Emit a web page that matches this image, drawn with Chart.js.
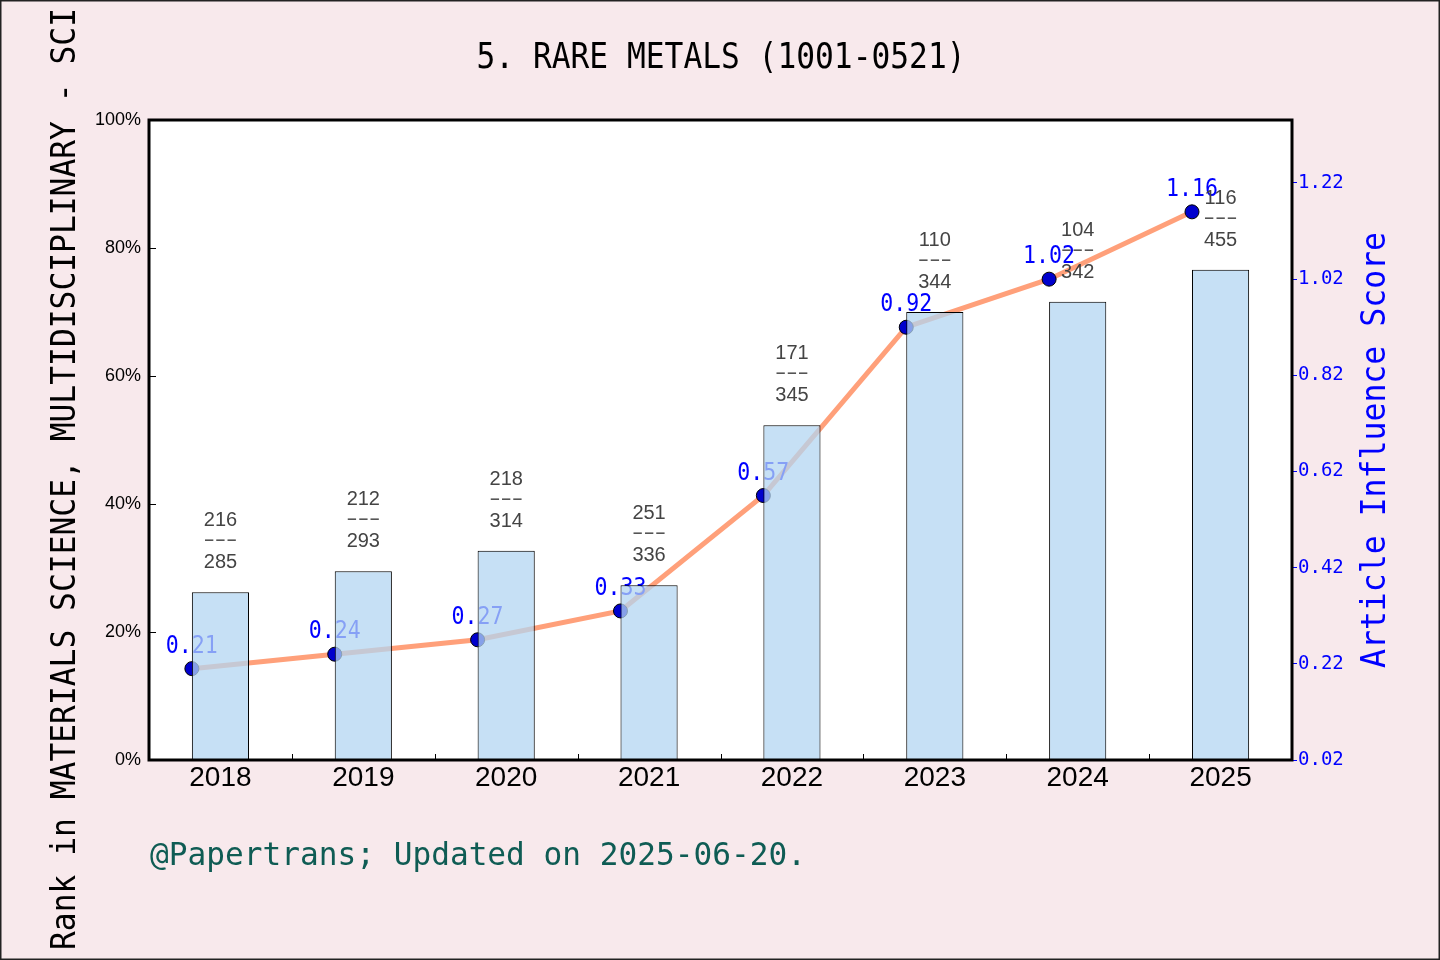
<!DOCTYPE html>
<html>
<head>
<meta charset="utf-8">
<script src="https://cdn.jsdelivr.net/npm/chart.js@4/dist/chart.umd.min.js"></script>
<style>
  html, body { margin: 0; padding: 0; background: #f8e9ec; }
  canvas { display: block; }
</style>
</head>
<body>
<canvas id="rankChart" width="1440" height="960"></canvas>
<script>
// data
const years = ["2018", "2019", "2020", "2021", "2022", "2023", "2024", "2025"];
const rankPct = [26.2, 29.5, 32.7, 27.3, 52.3, 70.0, 71.6, 76.6];
const aisScore = [0.21, 0.24, 0.27, 0.33, 0.57, 0.92, 1.02, 1.16];
const ranks = [216, 212, 218, 251, 171, 110, 104, 116];
const totals = [285, 293, 314, 336, 345, 344, 342, 455];
const pctTicks = [0, 20, 40, 60, 80, 100];
const aisTicks = [0.02, 0.22, 0.42, 0.62, 0.82, 1.02, 1.22];

const lineShift = -0.2; // line sits at the left edge of each bar

const BLUE = "#0000ff";
const MONO = "DejaVu Sans Mono";

// draw text squeezed/stretched to a given width
function drawFitted(ctx, text, x, y, width, font, color, align, angle) {
  ctx.save();
  ctx.font = font;
  ctx.fillStyle = color;
  ctx.textBaseline = "alphabetic";
  ctx.textAlign = align || "left";
  const w = ctx.measureText(text).width;
  ctx.translate(x, y);
  if (angle) ctx.rotate(angle);
  ctx.scale(width ? width / w : 1, 1);
  ctx.fillText(text, 0, 0);
  ctx.restore();
}

const decor = {
  id: "decor",
  beforeDraw(chart) {
    const { ctx, chartArea: a } = chart;
    ctx.save();
    ctx.fillStyle = "#f8e9ec";
    ctx.fillRect(0, 0, chart.width, chart.height);
    ctx.fillStyle = "#ffffff";
    ctx.fillRect(a.left, a.top, a.right - a.left, a.bottom - a.top);
    ctx.restore();
  },
  afterDatasetDraw(chart, args) {
    // value labels of the line, drawn before the bars cover them
    if (args.meta.type !== "line") return;
    const ctx = chart.ctx;
    args.meta.data.forEach((pt, i) => {
      drawFitted(ctx, aisScore[i].toFixed(2), pt.x, pt.y - 16, 52,
        "25px " + MONO, BLUE, "center");
    });
  },
  afterDatasetsDraw(chart) {
    const ctx = chart.ctx;
    const bars = chart.getDatasetMeta(0).data;
    bars.forEach((bar, i) => {
      ctx.save();
      ctx.font = "20px 'Liberation Sans'";
      ctx.fillStyle = "#444444";
      ctx.textAlign = "center";
      ctx.textBaseline = "alphabetic";
      ctx.fillText(String(ranks[i]), bar.x, bar.y - 66);
      ctx.fillText(String(totals[i]), bar.x, bar.y - 24);
      ctx.restore();
      drawFitted(ctx, "---", bar.x, bar.y - 46, 34, "20px 'Liberation Sans'", "#555555", "center");
    });
  },
  afterDraw(chart) {
    const { ctx, chartArea: a, scales } = chart;
    ctx.save();
    // inward ticks on the left axis
    ctx.strokeStyle = "#000";
    ctx.lineWidth = 1;
    scales.y.ticks.forEach((t, i) => {
      const py = Math.round(scales.y.getPixelForTick(i)) + 0.5;
      ctx.beginPath();
      ctx.moveTo(a.left, py);
      ctx.lineTo(a.left + 7, py);
      ctx.stroke();
    });
    // minor ticks between years on the bottom axis
    for (let i = 0; i < years.length - 1; i++) {
      const px = Math.round((scales.x.getPixelForTick(i) + scales.x.getPixelForTick(i + 1)) / 2) + 0.5;
      ctx.beginPath();
      ctx.moveTo(px, a.bottom);
      ctx.lineTo(px, a.bottom - 6);
      ctx.stroke();
    }
    // frame
    ctx.lineWidth = 3;
    ctx.strokeRect(a.left, a.top, a.right - a.left, a.bottom - a.top);
    // figure border
    ctx.lineWidth = 1.5;
    ctx.strokeStyle = "#222";
    ctx.strokeRect(0.75, 0.75, chart.width - 1.5, chart.height - 1.5);
    ctx.restore();

    drawFitted(ctx, "5. RARE METALS (1001-0521)", 721, 68, 489, "36px " + MONO, "#000", "center");
    drawFitted(ctx, "@Papertrans; Updated on 2025-06-20.", 150, 865, 656, "32px " + MONO, "#0f5c54", "left");
    drawFitted(ctx, "Rank in MATERIALS SCIENCE, MULTIDISCIPLINARY - SCI", 75, 479, 942,
      "34px " + MONO, "#000", "center", -Math.PI / 2);
    drawFitted(ctx, "Article Influence Score", 1385, 450, 436,
      "34px " + MONO, BLUE, "center", -Math.PI / 2);
  }
};

const ctx = document.getElementById("rankChart");

const rankChart = new Chart(ctx, {
  type: "bar",
  data: {
    labels: years,
    datasets: [{
      label: "Rank",
      data: rankPct,
      backgroundColor: "rgba(179, 214, 242, 0.75)",
      borderColor: "#000",
      borderWidth: 1,
      borderSkipped: false,
      grouped: false,
      barPercentage: 0.4,
      categoryPercentage: 1.0,
      xAxisID: "x",
      yAxisID: "y",
      order: 1
    }, {
      type: "line",
      label: "Article Influence Score",
      data: aisScore.map((v, i) => ({ x: i + lineShift, y: v })),
      borderColor: "#ffa07a",
      borderWidth: 5,
      tension: 0,
      pointRadius: 7,
      pointBackgroundColor: "#0000cd",
      pointBorderColor: "#000",
      pointBorderWidth: 1,
      xAxisID: "x2",
      yAxisID: "y2",
      order: 2
    }]
  },
  options: {
    responsive: false,
    animation: false,
    devicePixelRatio: 1,
    layout: { padding: { left: 89, right: 88, top: 120, bottom: 160 } },
    plugins: {
      legend: { display: false },
      tooltip: { enabled: false }
    },
    scales: {
      x: {
        type: "category",
        offset: true,
        grid: { display: false, drawTicks: false },
        border: { display: false },
        ticks: { color: "#000", font: { family: "Liberation Sans", size: 28 }, padding: 1, maxRotation: 0 },
        afterFit(scale) { scale.height = 40; }
      },
      x2: {
        type: "linear",
        display: false,
        offset: false,
        min: -0.5,
        max: years.length - 0.5
      },
      y: {
        position: "left",
        min: 0,
        max: 100,
        grid: { display: false, drawTicks: false },
        border: { display: false },
        ticks: {
          color: "#000",
          font: { family: "Liberation Sans", size: 18 },
          padding: 8,
          callback: v => v + "%"
        },
        afterBuildTicks(scale) { scale.ticks = pctTicks.map(v => ({ value: v })); },
        afterFit(scale) { scale.width = 60; }
      },
      y2: {
        position: "right",
        min: 0.02,
        max: 1.351,
        grid: { display: true, drawOnChartArea: false, drawTicks: true, tickLength: 5, color: BLUE, tickColor: BLUE },
        border: { display: false },
        ticks: {
          color: BLUE,
          font: { family: MONO, size: 19 },
          padding: 1,
          callback: v => v.toFixed(2)
        },
        afterBuildTicks(scale) { scale.ticks = aisTicks.map(v => ({ value: v })); },
        afterFit(scale) { scale.width = 60; }
      }
    }
  },
  plugins: [decor]
});
</script>
</body>
</html>
